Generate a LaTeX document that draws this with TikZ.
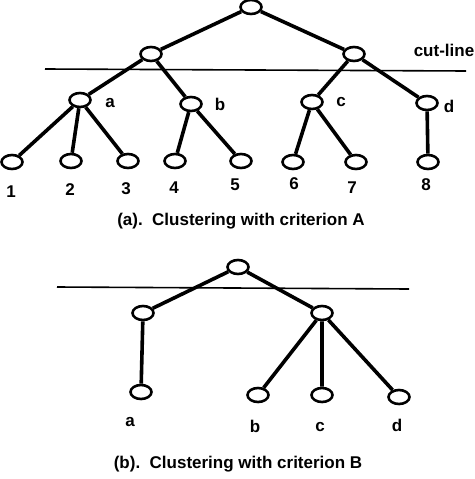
\documentclass[tikz,border=0pt]{standalone}
\usepackage{fontspec}
\setmainfont{Liberation Sans}
\usetikzlibrary{shapes.geometric,backgrounds}
\begin{document}
\begin{tikzpicture}[x=1pt,y=-1pt,
  vert/.style={ellipse,draw,fill=white,line width=2.6pt,minimum width=21pt,minimum height=14pt,inner sep=0pt},
  edge/.style={line width=3.6pt},
  cutln/.style={line width=1.6pt},
  lbl/.style={font=\bfseries\fontsize{17}{17}\selectfont,inner sep=0pt},
  captxt/.style={font=\bfseries\fontsize{17}{17}\selectfont,inner sep=0pt}]
\useasboundingbox (0,0) rectangle (474,479);
% ---------- (a) ----------
\node[vert] (r) at (251,7) {};
\node[vert] (L) at (151,54) {};
\node[vert] (R) at (354,54) {};
\node[vert] (a) at (80,100) {};
\node[vert] (b) at (191,104) {};
\node[vert] (c) at (312,102) {};
\node[vert] (d) at (427,103) {};
\node[vert] (n1) at (12,162) {};
\node[vert] (n2) at (71,161) {};
\node[vert] (n3) at (128,161) {};
\node[vert] (n4) at (175,161) {};
\node[vert] (n5) at (241,161) {};
\node[vert] (n6) at (293,162) {};
\node[vert] (n7) at (356,162) {};
\node[vert] (n8) at (428,162) {};
\coordinate (cutAl) at (45,69);
\coordinate (cutAr) at (466,71);
\begin{scope}[on background layer]
\draw[cutln] (cutAl) -- (cutAr);
\draw[edge] (r) -- (L) (r) -- (R) (L) -- (a) (L) -- (b) (R) -- (c) (R) -- (d)
  (a) -- (n1) (a) -- (n2) (a) -- (n3) (b) -- (n4) (b) -- (n5) (c) -- (n6) (c) -- (n7) (d) -- (n8);
\end{scope}
\node[lbl] (la) at (110,103) {a};
\node[lbl] (lb) at (220,104) {b};
\node[lbl] (lc) at (341,102) {c};
\node[lbl] (ld) at (449,106) {d};
\node[lbl] (t1) at (11,192) {1};
\node[lbl] (t2) at (70,190) {2};
\node[lbl] (t3) at (126,189) {3};
\node[lbl] (t4) at (174,188) {4};
\node[lbl] (t5) at (235,185) {5};
\node[lbl] (t6) at (294,184) {6};
\node[lbl] (t7) at (352,188) {7};
\node[lbl] (t8) at (426,185) {8};
\node[captxt] (cutlbl) at (444,50) {cut-line};
\node[captxt] (capA) at (241,221) {(a).\ \ Clustering with criterion A};
% ---------- (b) ----------
\coordinate (cutBl) at (57,287);
\coordinate (cutBr) at (409,289);
\node[vert] (rb) at (238,267) {};
\node[vert] (Lb) at (143,313) {};
\node[vert] (Rb) at (322,313) {};
\node[vert] (ab) at (141,392) {};
\node[vert] (bb) at (258,395) {};
\node[vert] (cb) at (322,395) {};
\node[vert] (db) at (399,397) {};
\begin{scope}[on background layer]
\draw[cutln] (cutBl) -- (cutBr);
\draw[edge] (rb) -- (Lb) (rb) -- (Rb) (Lb) -- (ab) (Rb) -- (bb) (Rb) -- (cb) (Rb) -- (db);
\end{scope}
\node[lbl] (lab) at (130,422) {a};
\node[lbl] (lbb) at (255,426) {b};
\node[lbl] (lcb) at (320,427) {c};
\node[lbl] (ldb) at (397,425) {d};
\node[captxt] (capB) at (238,464) {(b).\ \ Clustering with criterion B};
\end{tikzpicture}
\end{document}
